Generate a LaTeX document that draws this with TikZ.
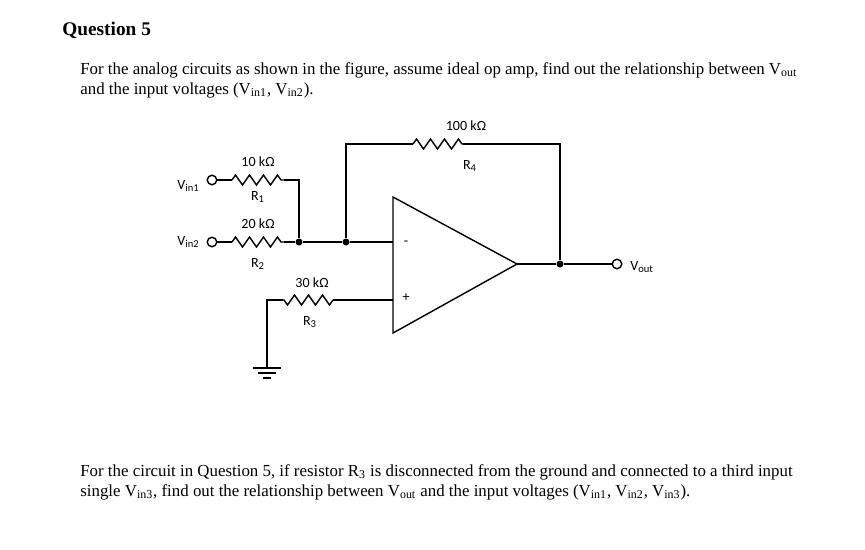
\documentclass[tikz,border=0pt]{standalone}
\usepackage{fontspec}
\setmainfont{Liberation Serif}
\newfontfamily\circfont{Carlito}
\usetikzlibrary{decorations.pathmorphing}
\tikzset{
  txt/.style={anchor=west,inner sep=0pt,font=\fontsize{9.6pt}{11pt}\selectfont},
  lbl/.style={inner sep=0pt,font=\circfont\fontsize{8pt}{9pt}\selectfont},
  res/.style={decorate,decoration={zigzag,segment length=0.28cm,amplitude=0.1cm}},
  term/.style={circle,draw,fill=white,line width=0.8pt,inner sep=0pt,minimum size=0.19cm},
  dot/.style={circle,fill,inner sep=0pt,minimum size=0.14cm},
  wire/.style={line width=0.8pt}
}
\newcommand{\sub}[1]{\textsubscript{\fontsize{6.8pt}{7pt}\selectfont #1}}
\begin{document}
\begin{tikzpicture}[x=0.02cm,y=-0.02cm]
\useasboundingbox (0,0) rectangle (865,549);
% texts
\node[txt,font=\bfseries\fontsize{11pt}{12pt}\selectfont] (q) at (62,30) {Question 5};
\node[txt] (l1) at (80,70) {For the analog circuits as shown in the figure, assume ideal op amp, find out the relationship between V\sub{out}};
\node[txt] (l2) at (80,90) {and the input voltages (V\sub{in1}, V\sub{in2}).};
\node[txt] (l3) at (80,472) {For the circuit in Question 5, if resistor R\sub{3} is disconnected from the ground and connected to a third input};
\node[txt] (l4) at (80,492) {single V\sub{in3}, find out the relationship between V\sub{out} and the input voltages (V\sub{in1}, V\sub{in2}, V\sub{in3}).};

% op amp
\coordinate (oa1) at (393,197);
\coordinate (oa2) at (393,333);
\coordinate (out) at (517,264);
\draw[wire] (oa1) -- (out) -- (oa2) -- cycle;
\node[lbl] (minus) at (406,243) {-};
\node[lbl] (plus) at (406,298) {+};
\coordinate (inm) at (393,242);
\coordinate (inp) at (393,300);

% inputs
\node[term] (vin1) at (212,180) {};
\node[term] (vin2) at (212,242) {};
\node[lbl,anchor=east] at (200,186) {V\textsubscript{in1}};
\node[lbl,anchor=east] at (200,242) {V\textsubscript{in2}};
\coordinate (r1a) at (232,180);
\coordinate (r1b) at (284,180);
\coordinate (r2a) at (232,242);
\coordinate (r2b) at (284,242);
\coordinate (c1) at (299,180);
\node[dot] (j1) at (299,242) {};
\node[dot] (j2) at (346,242) {};
\draw[wire] (vin1) -- (r1a);
\draw[wire,res] (r1a) -- (r1b);
\draw[wire] (r1b) -- (c1) -- (j1);
\draw[wire] (vin2) -- (r2a);
\draw[wire,res] (r2a) -- (r2b);
\draw[wire] (r2b) -- (j1) -- (j2) -- (inm);
\node[lbl] at (258,162) {10 kΩ};
\node[lbl] at (258,197) {R\textsubscript{1}};
\node[lbl] at (258,224) {20 kΩ};
\node[lbl] at (258,264) {R\textsubscript{2}};

% feedback
\coordinate (f1) at (346,144);
\coordinate (r4a) at (413,144);
\coordinate (r4b) at (463,144);
\coordinate (f2) at (560,144);
\node[dot] (j3) at (560,264) {};
\node[term] (vout) at (617,264) {};
\node[lbl,anchor=west] at (630,267) {V\textsubscript{out}};
\draw[wire] (j2) -- (f1) -- (r4a);
\draw[wire,res] (r4a) -- (r4b);
\draw[wire] (r4b) -- (f2) -- (j3);
\draw[wire] (out) -- (j3) -- (vout);
\node[lbl] at (466,126) {100 kΩ};
\node[lbl] at (470,166) {R\textsubscript{4}};

% plus input
\coordinate (g) at (267,368);
\coordinate (c3) at (267,300);
\coordinate (r3a) at (283,300);
\coordinate (r3b) at (333,300);
\draw[wire] (inp) -- (r3b);
\draw[wire,res] (r3b) -- (r3a);
\draw[wire] (r3a) -- (c3) -- (g);
\draw[wire] (g) ++(-14,0) -- ++(28,0);
\draw[wire] (g) ++(-9,5) -- ++(18,0);
\draw[wire] (g) ++(-4,10) -- ++(8,0);
\node[lbl] at (312,283) {30 kΩ};
\node[lbl] at (310,322) {R\textsubscript{3}};
\end{tikzpicture}
\end{document}
